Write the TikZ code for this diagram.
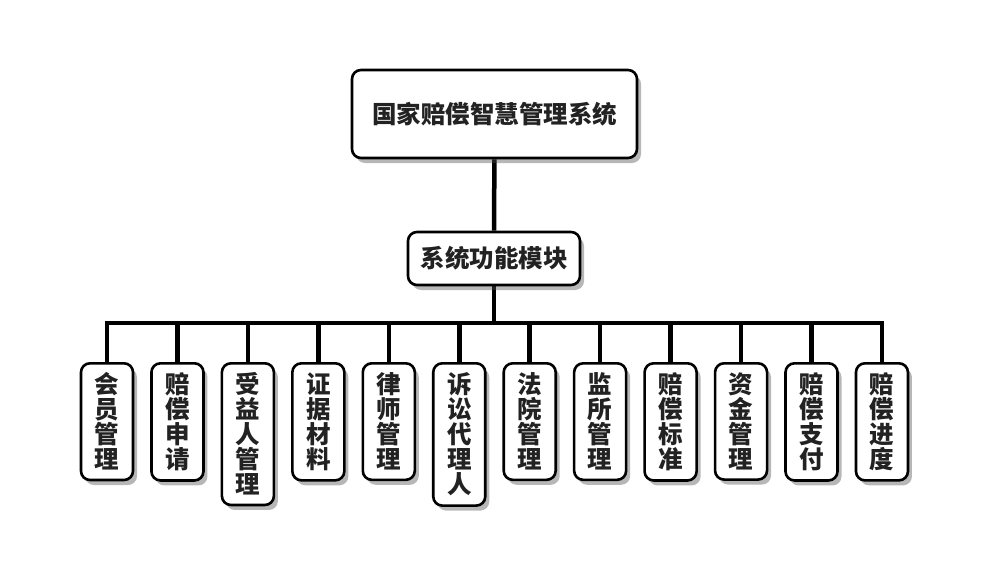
\documentclass[tikz,border=0pt]{standalone}
\usepackage{fontspec}
\usepackage{tikz}
\usetikzlibrary{shadows,backgrounds}
\newfontfamily\cjk{Noto Sans CJK SC}
\newcommand{\busy}{323}
\newcommand{\leaftop}{362}
\newcommand{\leafgap}{70.45}
\definecolor{textcolor}{HTML}{222222}
\tikzset{
    box/.style={draw=black, line width=2.6pt, rounded corners=9pt, fill=white, text=textcolor,
        font=\cjk\bfseries\fontsize{24.5}{25}\selectfont,
        drop shadow={shadow xshift=4pt, shadow yshift=-5pt, opacity=0.4, fill=black!70}},
    leaf/.style={box, anchor=north, minimum width=52pt, text width=26pt, align=center,
        inner xsep=0pt, inner ysep=9.5pt},
    link/.style={line width=4.5pt}
}

\begin{document}
\begin{tikzpicture}[x=1pt, y=-1pt]
    \useasboundingbox (0, 0) rectangle (987, 583);

    % top levels
    \node [box, minimum width=285pt, minimum height=88pt] (sys) at (494.5, 114) {国家赔偿智慧管理系统};
    \node [box, minimum width=172pt, minimum height=53pt] (mod) at (494, 258.5) {系统功能模块};
    \coordinate (bus) at (494, \busy);

    % leaf modules
    \foreach \name [count=\i from 0] in {会\\员\\管\\理, 赔\\偿\\申\\请, 受\\益\\人\\管\\理, 证\\据\\材\\料,
        律\\师\\管\\理, 诉\\讼\\代\\理\\人, 法\\院\\管\\理, 监\\所\\管\\理,
        赔\\偿\\标\\准, 资\\金\\管\\理, 赔\\偿\\支\\付, 赔\\偿\\进\\度}
        \node [leaf] (leaf\i) at (107+\i*\leafgap, \leaftop) {\name};

    % links
    \begin{scope}[on background layer]
        \draw [link] (sys) -- (mod);
        \draw [link] (mod) -- (bus);
        \foreach \i in {0,...,11}
            \draw [link] (leaf\i.north) |- (bus);
    \end{scope}
\end{tikzpicture}
\end{document}
